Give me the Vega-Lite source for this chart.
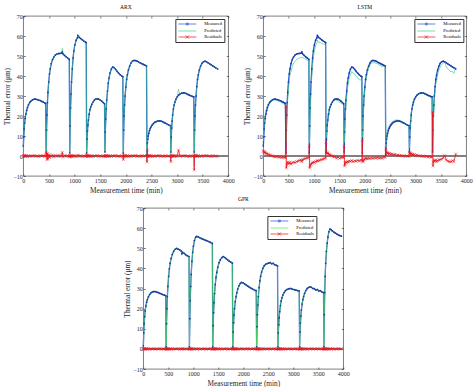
{
  "$schema": "https://vega.github.io/schema/vega-lite/v6.json",
  "padding": {"left": 3, "top": 4, "right": 3, "bottom": 0},
  "background": "#ffffff",
  "datasets": {
    "top": [
      {"t":0,"m":5.0,"pa":5.3,"ra":0.3,"pl":7.5,"rl":2.5},
      {"t":8,"m":9.5,"pa":9.1,"ra":-0.4,"pl":11.7,"rl":2.2},
      {"t":16,"m":13.5,"pa":13.7,"ra":0.2,"pl":15.5,"rl":2.0},
      {"t":25,"m":16.5,"pa":16.3,"ra":-0.2,"pl":18.3,"rl":1.8},
      {"t":35,"m":18.8,"pa":19.1,"ra":0.3,"pl":20.4,"rl":1.6},
      {"t":50,"m":21.0,"pa":20.9,"ra":-0.1,"pl":22.4,"rl":1.4},
      {"t":65,"m":22.8,"pa":23.0,"ra":0.2,"pl":24.0,"rl":1.2},
      {"t":80,"m":24.2,"pa":23.9,"ra":-0.3,"pl":25.2,"rl":1.0},
      {"t":100,"m":25.6,"pa":25.7,"ra":0.1,"pl":26.4,"rl":0.8},
      {"t":125,"m":26.8,"pa":26.6,"ra":-0.2,"pl":27.3,"rl":0.5},
      {"t":150,"m":27.5,"pa":27.7,"ra":0.2,"pl":27.8,"rl":0.3},
      {"t":180,"m":28.1,"pa":28.0,"ra":-0.1,"pl":28.1,"rl":0.0},
      {"t":210,"m":28.4,"pa":28.7,"ra":0.3,"pl":28.1,"rl":-0.3},
      {"t":240,"m":28.4,"pa":28.2,"ra":-0.2,"pl":27.9,"rl":-0.5},
      {"t":270,"m":28.2,"pa":28.3,"ra":0.1,"pl":27.9,"rl":-0.3},
      {"t":300,"m":28.0,"pa":27.7,"ra":-0.3,"pl":27.4,"rl":-0.6},
      {"t":330,"m":27.7,"pa":27.9,"ra":0.2,"pl":27.3,"rl":-0.4},
      {"t":360,"m":27.3,"pa":27.2,"ra":-0.1,"pl":26.5,"rl":-0.8},
      {"t":390,"m":26.9,"pa":27.1,"ra":0.2,"pl":26.4,"rl":-0.5},
      {"t":420,"m":26.5,"pa":26.3,"ra":-0.2,"pl":25.8,"rl":-0.7},
      {"t":434,"m":26.2,"pa":26.3,"ra":0.1,"pl":25.2,"rl":-1.0},
      {"t":445,"m":1.5,"pa":2.0,"ra":0.5,"pl":26.5,"rl":25.0},
      {"t":453,"m":13.0,"pa":15.0,"ra":2.0,"pl":7.0,"rl":-6.0},
      {"t":461,"m":20.5,"pa":18.7,"ra":-1.8,"pl":16.0,"rl":-4.5},
      {"t":470,"m":26.7,"pa":27.9,"ra":1.2,"pl":23.2,"rl":-3.5},
      {"t":480,"m":31.8,"pa":30.3,"ra":-1.5,"pl":28.8,"rl":-3.0},
      {"t":495,"m":37.0,"pa":37.6,"ra":0.6,"pl":33.0,"rl":-4.0},
      {"t":510,"m":41.0,"pa":40.2,"ra":-0.8,"pl":37.5,"rl":-3.5},
      {"t":525,"m":43.6,"pa":44.0,"ra":0.4,"pl":40.4,"rl":-3.2},
      {"t":545,"m":46.2,"pa":45.9,"ra":-0.3,"pl":42.2,"rl":-4.0},
      {"t":570,"m":48.2,"pa":48.7,"ra":0.5,"pl":44.7,"rl":-3.5},
      {"t":595,"m":49.5,"pa":49.1,"ra":-0.4,"pl":46.5,"rl":-3.0},
      {"t":625,"m":50.5,"pa":50.8,"ra":0.3,"pl":47.2,"rl":-3.3},
      {"t":655,"m":51.0,"pa":50.8,"ra":-0.2,"pl":48.2,"rl":-2.8},
      {"t":685,"m":51.2,"pa":51.6,"ra":0.4,"pl":48.7,"rl":-2.5},
      {"t":715,"m":51.3,"pa":51.0,"ra":-0.3,"pl":49.1,"rl":-2.2},
      {"t":745,"m":51.4,"pa":51.6,"ra":0.2,"pl":49.4,"rl":-2.0},
      {"t":760,"m":52.0,"pa":53.8,"ra":1.8,"pl":49.2,"rl":-2.8},
      {"t":775,"m":51.0,"pa":50.5,"ra":-0.5,"pl":49.2,"rl":-1.8},
      {"t":805,"m":50.3,"pa":50.6,"ra":0.3,"pl":48.8,"rl":-1.5},
      {"t":835,"m":49.6,"pa":49.4,"ra":-0.2,"pl":48.4,"rl":-1.2},
      {"t":865,"m":49.0,"pa":49.2,"ra":0.2,"pl":48.0,"rl":-1.0},
      {"t":897,"m":48.3,"pa":48.0,"ra":-0.3,"pl":47.5,"rl":-0.8},
      {"t":905,"m":1.5,"pa":1.8,"ra":0.3,"pl":6.5,"rl":5.0},
      {"t":913,"m":15.0,"pa":14.5,"ra":-0.5,"pl":9.0,"rl":-6.0},
      {"t":921,"m":24.0,"pa":24.4,"ra":0.4,"pl":19.0,"rl":-5.0},
      {"t":930,"m":31.0,"pa":30.7,"ra":-0.3,"pl":26.5,"rl":-4.5},
      {"t":940,"m":37.0,"pa":37.2,"ra":0.2,"pl":33.0,"rl":-4.0},
      {"t":955,"m":43.6,"pa":43.2,"ra":-0.4,"pl":40.1,"rl":-3.5},
      {"t":970,"m":49.0,"pa":49.3,"ra":0.3,"pl":45.5,"rl":-3.5},
      {"t":985,"m":52.5,"pa":52.3,"ra":-0.2,"pl":49.5,"rl":-3.0},
      {"t":1005,"m":55.5,"pa":55.7,"ra":0.2,"pl":52.3,"rl":-3.2},
      {"t":1030,"m":57.9,"pa":57.6,"ra":-0.3,"pl":55.1,"rl":-2.8},
      {"t":1055,"m":59.1,"pa":59.2,"ra":0.1,"pl":56.6,"rl":-2.5},
      {"t":1065,"m":60.2,"pa":60.6,"ra":0.4,"pl":57.9,"rl":-2.3},
      {"t":1090,"m":59.3,"pa":59.1,"ra":-0.2,"pl":56.8,"rl":-2.5},
      {"t":1120,"m":58.7,"pa":58.9,"ra":0.2,"pl":56.7,"rl":-2.0},
      {"t":1150,"m":58.1,"pa":57.8,"ra":-0.3,"pl":56.3,"rl":-1.8},
      {"t":1180,"m":57.5,"pa":57.6,"ra":0.1,"pl":56.0,"rl":-1.5},
      {"t":1210,"m":57.0,"pa":56.8,"ra":-0.2,"pl":55.8,"rl":-1.2},
      {"t":1227,"m":56.7,"pa":56.9,"ra":0.2,"pl":55.7,"rl":-1.0},
      {"t":1235,"m":1.5,"pa":2.1,"ra":0.6,"pl":8.5,"rl":7.0},
      {"t":1243,"m":8.5,"pa":8.1,"ra":-0.4,"pl":10.5,"rl":2.0},
      {"t":1251,"m":12.5,"pa":12.7,"ra":0.2,"pl":14.0,"rl":1.5},
      {"t":1260,"m":15.5,"pa":15.3,"ra":-0.2,"pl":16.7,"rl":1.2},
      {"t":1270,"m":18.0,"pa":18.3,"ra":0.3,"pl":19.5,"rl":1.5},
      {"t":1285,"m":20.9,"pa":20.8,"ra":-0.1,"pl":21.9,"rl":1.0},
      {"t":1300,"m":23.2,"pa":23.4,"ra":0.2,"pl":24.0,"rl":0.8},
      {"t":1315,"m":24.5,"pa":24.2,"ra":-0.3,"pl":25.0,"rl":0.5},
      {"t":1335,"m":25.8,"pa":25.9,"ra":0.1,"pl":26.1,"rl":0.3},
      {"t":1360,"m":27.0,"pa":26.8,"ra":-0.2,"pl":27.0,"rl":0.0},
      {"t":1385,"m":27.9,"pa":28.1,"ra":0.2,"pl":27.4,"rl":-0.5},
      {"t":1410,"m":28.5,"pa":28.4,"ra":-0.1,"pl":28.2,"rl":-0.3},
      {"t":1440,"m":28.6,"pa":28.9,"ra":0.3,"pl":27.6,"rl":-1.0},
      {"t":1470,"m":28.4,"pa":28.2,"ra":-0.2,"pl":27.9,"rl":-0.5},
      {"t":1500,"m":28.0,"pa":28.1,"ra":0.1,"pl":26.8,"rl":-1.2},
      {"t":1530,"m":27.4,"pa":27.1,"ra":-0.3,"pl":26.6,"rl":-0.8},
      {"t":1560,"m":26.7,"pa":26.9,"ra":0.2,"pl":26.1,"rl":-0.6},
      {"t":1584,"m":26.1,"pa":25.9,"ra":-0.2,"pl":25.3,"rl":-0.8},
      {"t":1592,"m":2.0,"pa":2.4,"ra":0.4,"pl":7.0,"rl":5.0},
      {"t":1600,"m":12.0,"pa":11.7,"ra":-0.3,"pl":7.0,"rl":-5.0},
      {"t":1608,"m":18.5,"pa":18.7,"ra":0.2,"pl":14.5,"rl":-4.0},
      {"t":1617,"m":23.5,"pa":23.3,"ra":-0.2,"pl":20.0,"rl":-3.5},
      {"t":1627,"m":28.0,"pa":28.3,"ra":0.3,"pl":25.0,"rl":-3.0},
      {"t":1642,"m":32.5,"pa":32.4,"ra":-0.1,"pl":29.3,"rl":-3.2},
      {"t":1657,"m":36.5,"pa":36.7,"ra":0.2,"pl":33.7,"rl":-2.8},
      {"t":1672,"m":39.0,"pa":38.7,"ra":-0.3,"pl":36.0,"rl":-3.0},
      {"t":1692,"m":41.5,"pa":41.6,"ra":0.1,"pl":39.0,"rl":-2.5},
      {"t":1717,"m":43.5,"pa":43.3,"ra":-0.2,"pl":40.8,"rl":-2.7},
      {"t":1742,"m":44.5,"pa":44.7,"ra":0.2,"pl":42.2,"rl":-2.3},
      {"t":1770,"m":44.2,"pa":44.1,"ra":-0.1,"pl":41.4,"rl":-2.8},
      {"t":1800,"m":43.3,"pa":43.6,"ra":0.3,"pl":40.9,"rl":-2.4},
      {"t":1830,"m":42.3,"pa":42.1,"ra":-0.2,"pl":39.7,"rl":-2.6},
      {"t":1860,"m":41.4,"pa":41.5,"ra":0.1,"pl":39.2,"rl":-2.2},
      {"t":1890,"m":40.6,"pa":40.3,"ra":-0.3,"pl":38.1,"rl":-2.5},
      {"t":1920,"m":40.0,"pa":40.2,"ra":0.2,"pl":38.0,"rl":-2.0},
      {"t":1941,"m":39.7,"pa":39.5,"ra":-0.2,"pl":37.5,"rl":-2.2},
      {"t":1950,"m":1.5,"pa":-0.3,"ra":-1.8,"pl":9.5,"rl":8.0},
      {"t":1958,"m":13.0,"pa":13.5,"ra":0.5,"pl":10.0,"rl":-3.0},
      {"t":1966,"m":20.0,"pa":19.7,"ra":-0.3,"pl":17.5,"rl":-2.5},
      {"t":1975,"m":25.5,"pa":25.7,"ra":0.2,"pl":23.5,"rl":-2.0},
      {"t":1985,"m":30.0,"pa":29.8,"ra":-0.2,"pl":28.2,"rl":-1.8},
      {"t":2000,"m":34.5,"pa":34.8,"ra":0.3,"pl":33.2,"rl":-1.3},
      {"t":2015,"m":38.3,"pa":38.2,"ra":-0.1,"pl":37.1,"rl":-1.2},
      {"t":2030,"m":40.6,"pa":40.8,"ra":0.2,"pl":39.5,"rl":-1.1},
      {"t":2050,"m":43.0,"pa":42.7,"ra":-0.3,"pl":41.6,"rl":-1.4},
      {"t":2075,"m":45.0,"pa":45.1,"ra":0.1,"pl":44.0,"rl":-1.0},
      {"t":2100,"m":46.5,"pa":46.3,"ra":-0.2,"pl":45.2,"rl":-1.3},
      {"t":2130,"m":47.5,"pa":47.7,"ra":0.2,"pl":46.6,"rl":-0.9},
      {"t":2160,"m":47.8,"pa":47.7,"ra":-0.1,"pl":46.6,"rl":-1.2},
      {"t":2190,"m":47.7,"pa":48.0,"ra":0.3,"pl":46.8,"rl":-0.9},
      {"t":2220,"m":47.4,"pa":47.2,"ra":-0.2,"pl":46.3,"rl":-1.1},
      {"t":2250,"m":47.0,"pa":47.1,"ra":0.1,"pl":46.2,"rl":-0.8},
      {"t":2280,"m":46.6,"pa":46.3,"ra":-0.3,"pl":45.5,"rl":-1.1},
      {"t":2310,"m":46.2,"pa":46.4,"ra":0.2,"pl":45.3,"rl":-0.9},
      {"t":2340,"m":45.8,"pa":45.6,"ra":-0.2,"pl":44.7,"rl":-1.1},
      {"t":2370,"m":45.4,"pa":45.5,"ra":0.1,"pl":44.8,"rl":-0.6},
      {"t":2403,"m":45.0,"pa":45.3,"ra":0.3,"pl":44.4,"rl":-0.6},
      {"t":2412,"m":0.5,"pa":-2.5,"ra":-3.0,"pl":4.5,"rl":4.0},
      {"t":2420,"m":6.5,"pa":9.5,"ra":3.0,"pl":8.5,"rl":2.0},
      {"t":2428,"m":8.5,"pa":8.1,"ra":-0.4,"pl":10.0,"rl":1.5},
      {"t":2437,"m":10.0,"pa":10.2,"ra":0.2,"pl":11.8,"rl":1.8},
      {"t":2447,"m":11.3,"pa":11.1,"ra":-0.2,"pl":12.5,"rl":1.2},
      {"t":2462,"m":12.7,"pa":13.0,"ra":0.3,"pl":14.2,"rl":1.5},
      {"t":2477,"m":13.8,"pa":13.7,"ra":-0.1,"pl":14.8,"rl":1.0},
      {"t":2492,"m":14.6,"pa":14.8,"ra":0.2,"pl":15.9,"rl":1.3},
      {"t":2512,"m":15.4,"pa":15.1,"ra":-0.3,"pl":16.2,"rl":0.8},
      {"t":2537,"m":16.2,"pa":16.3,"ra":0.1,"pl":17.2,"rl":1.0},
      {"t":2562,"m":16.8,"pa":16.6,"ra":-0.2,"pl":17.4,"rl":0.6},
      {"t":2592,"m":17.2,"pa":17.4,"ra":0.2,"pl":18.0,"rl":0.8},
      {"t":2622,"m":17.5,"pa":17.4,"ra":-0.1,"pl":17.9,"rl":0.4},
      {"t":2652,"m":17.6,"pa":17.9,"ra":0.3,"pl":18.1,"rl":0.5},
      {"t":2682,"m":17.5,"pa":17.3,"ra":-0.2,"pl":17.7,"rl":0.2},
      {"t":2712,"m":17.2,"pa":17.3,"ra":0.1,"pl":17.5,"rl":0.3},
      {"t":2742,"m":16.8,"pa":16.5,"ra":-0.3,"pl":16.8,"rl":0.0},
      {"t":2772,"m":16.4,"pa":16.6,"ra":0.2,"pl":16.6,"rl":0.2},
      {"t":2802,"m":16.0,"pa":15.8,"ra":-0.2,"pl":15.8,"rl":-0.2},
      {"t":2832,"m":15.6,"pa":15.7,"ra":0.1,"pl":15.7,"rl":0.1},
      {"t":2870,"m":15.2,"pa":15.0,"ra":-0.2,"pl":14.9,"rl":-0.3},
      {"t":2878,"m":2.0,"pa":-0.8,"ra":-2.8,"pl":4.0,"rl":2.0},
      {"t":2886,"m":9.5,"pa":10.0,"ra":0.5,"pl":10.5,"rl":1.0},
      {"t":2894,"m":14.0,"pa":13.7,"ra":-0.3,"pl":15.5,"rl":1.5},
      {"t":2903,"m":17.5,"pa":17.7,"ra":0.2,"pl":18.3,"rl":0.8},
      {"t":2913,"m":20.5,"pa":20.3,"ra":-0.2,"pl":21.7,"rl":1.2},
      {"t":2928,"m":23.5,"pa":23.8,"ra":0.3,"pl":24.1,"rl":0.6},
      {"t":2943,"m":25.5,"pa":25.4,"ra":-0.1,"pl":26.5,"rl":1.0},
      {"t":2958,"m":27.0,"pa":27.2,"ra":0.2,"pl":27.5,"rl":0.5},
      {"t":2978,"m":28.4,"pa":28.1,"ra":-0.3,"pl":29.1,"rl":0.7},
      {"t":3003,"m":29.6,"pa":29.7,"ra":0.1,"pl":29.9,"rl":0.3},
      {"t":3028,"m":30.4,"pa":33.4,"ra":3.0,"pl":30.9,"rl":0.5},
      {"t":3058,"m":31.0,"pa":30.8,"ra":-0.2,"pl":31.0,"rl":0.0},
      {"t":3090,"m":31.4,"pa":31.6,"ra":0.2,"pl":31.6,"rl":0.2},
      {"t":3120,"m":31.6,"pa":31.5,"ra":-0.1,"pl":31.4,"rl":-0.2},
      {"t":3150,"m":31.5,"pa":31.8,"ra":0.3,"pl":31.5,"rl":0.0},
      {"t":3180,"m":31.2,"pa":31.0,"ra":-0.2,"pl":30.9,"rl":-0.3},
      {"t":3210,"m":30.8,"pa":30.9,"ra":0.1,"pl":30.7,"rl":-0.1},
      {"t":3240,"m":30.4,"pa":30.1,"ra":-0.3,"pl":29.9,"rl":-0.5},
      {"t":3270,"m":30.1,"pa":30.3,"ra":0.2,"pl":29.8,"rl":-0.3},
      {"t":3300,"m":29.8,"pa":29.6,"ra":-0.2,"pl":29.2,"rl":-0.6},
      {"t":3325,"m":29.6,"pa":29.7,"ra":0.1,"pl":29.1,"rl":-0.5},
      {"t":3334,"m":2.0,"pa":-5.0,"ra":-7.0,"pl":24.0,"rl":22.0},
      {"t":3342,"m":13.0,"pa":13.6,"ra":0.6,"pl":8.0,"rl":-5.0},
      {"t":3350,"m":20.0,"pa":19.7,"ra":-0.3,"pl":17.0,"rl":-3.0},
      {"t":3359,"m":25.5,"pa":25.7,"ra":0.2,"pl":23.0,"rl":-2.5},
      {"t":3369,"m":30.0,"pa":29.8,"ra":-0.2,"pl":28.0,"rl":-2.0},
      {"t":3384,"m":34.7,"pa":35.0,"ra":0.3,"pl":32.2,"rl":-2.5},
      {"t":3399,"m":38.3,"pa":38.2,"ra":-0.1,"pl":36.3,"rl":-2.0},
      {"t":3414,"m":40.6,"pa":40.8,"ra":0.2,"pl":37.8,"rl":-2.8},
      {"t":3434,"m":43.0,"pa":42.7,"ra":-0.3,"pl":40.7,"rl":-2.3},
      {"t":3459,"m":45.0,"pa":45.1,"ra":0.1,"pl":43.0,"rl":-2.0},
      {"t":3484,"m":46.3,"pa":46.1,"ra":-0.2,"pl":44.5,"rl":-1.8},
      {"t":3514,"m":47.1,"pa":47.3,"ra":0.2,"pl":45.6,"rl":-1.5},
      {"t":3544,"m":47.4,"pa":47.3,"ra":-0.1,"pl":46.4,"rl":-1.0},
      {"t":3574,"m":47.1,"pa":47.4,"ra":0.3,"pl":47.3,"rl":0.2},
      {"t":3604,"m":46.6,"pa":46.4,"ra":-0.2,"pl":44.6,"rl":-2.0},
      {"t":3634,"m":46.1,"pa":46.2,"ra":0.1,"pl":43.6,"rl":-2.5},
      {"t":3664,"m":45.6,"pa":45.3,"ra":-0.3,"pl":42.8,"rl":-2.8},
      {"t":3694,"m":45.1,"pa":45.3,"ra":0.2,"pl":42.1,"rl":-3.0},
      {"t":3724,"m":44.6,"pa":44.4,"ra":-0.2,"pl":42.3,"rl":-2.3},
      {"t":3754,"m":44.1,"pa":44.2,"ra":0.1,"pl":41.3,"rl":-2.8},
      {"t":3792,"m":43.5,"pa":43.3,"ra":-0.2,"pl":44.5,"rl":1.0}
    ],
    "gpr": [
      {"t":0,"m":1.5,"p":1.7,"r":0.2},
      {"t":8,"m":8.0,"p":7.8,"r":-0.2},
      {"t":16,"m":12.5,"p":12.6,"r":0.1},
      {"t":25,"m":16.0,"p":15.9,"r":-0.1},
      {"t":35,"m":18.8,"p":19.0,"r":0.2},
      {"t":50,"m":21.3,"p":21.1,"r":-0.2},
      {"t":65,"m":23.2,"p":23.3,"r":0.1},
      {"t":80,"m":24.5,"p":24.4,"r":-0.1},
      {"t":100,"m":25.8,"p":26.0,"r":0.2},
      {"t":125,"m":27.0,"p":26.8,"r":-0.2},
      {"t":150,"m":27.8,"p":27.9,"r":0.1},
      {"t":180,"m":28.3,"p":28.2,"r":-0.1},
      {"t":210,"m":28.5,"p":28.7,"r":0.2},
      {"t":240,"m":28.4,"p":28.2,"r":-0.2},
      {"t":270,"m":28.2,"p":28.3,"r":0.1},
      {"t":300,"m":27.9,"p":27.8,"r":-0.1},
      {"t":330,"m":27.6,"p":27.8,"r":0.2},
      {"t":360,"m":27.3,"p":27.1,"r":-0.2},
      {"t":390,"m":27.0,"p":27.1,"r":0.1},
      {"t":420,"m":26.7,"p":26.6,"r":-0.1},
      {"t":447,"m":26.4,"p":26.7,"r":0.3},
      {"t":455,"m":1.0,"p":0.7,"r":-0.3},
      {"t":463,"m":12.5,"p":12.7,"r":0.2},
      {"t":471,"m":20.0,"p":19.8,"r":-0.2},
      {"t":480,"m":26.0,"p":26.1,"r":0.1},
      {"t":490,"m":31.0,"p":30.9,"r":-0.1},
      {"t":505,"m":36.0,"p":36.2,"r":0.2},
      {"t":520,"m":39.8,"p":39.6,"r":-0.2},
      {"t":535,"m":42.5,"p":42.6,"r":0.1},
      {"t":555,"m":45.0,"p":44.9,"r":-0.1},
      {"t":580,"m":47.0,"p":47.2,"r":0.2},
      {"t":605,"m":48.5,"p":48.3,"r":-0.2},
      {"t":635,"m":49.5,"p":49.6,"r":0.1},
      {"t":665,"m":49.9,"p":49.8,"r":-0.1},
      {"t":695,"m":49.6,"p":49.8,"r":0.2},
      {"t":725,"m":49.2,"p":49.0,"r":-0.2},
      {"t":755,"m":48.7,"p":48.8,"r":0.1},
      {"t":770,"m":47.3,"p":47.2,"r":-0.1},
      {"t":785,"m":48.0,"p":48.2,"r":0.2},
      {"t":815,"m":47.5,"p":47.3,"r":-0.2},
      {"t":845,"m":46.8,"p":46.9,"r":0.1},
      {"t":875,"m":46.3,"p":46.2,"r":-0.1},
      {"t":913,"m":45.9,"p":46.1,"r":0.2},
      {"t":921,"m":1.0,"p":0.8,"r":-0.2},
      {"t":929,"m":15.0,"p":15.1,"r":0.1},
      {"t":937,"m":24.0,"p":23.9,"r":-0.1},
      {"t":946,"m":31.0,"p":31.2,"r":0.2},
      {"t":956,"m":37.0,"p":36.8,"r":-0.2},
      {"t":971,"m":43.5,"p":43.6,"r":0.1},
      {"t":986,"m":48.0,"p":47.9,"r":-0.1},
      {"t":1001,"m":51.0,"p":51.2,"r":0.2},
      {"t":1021,"m":53.8,"p":53.6,"r":-0.2},
      {"t":1046,"m":55.5,"p":55.6,"r":0.1},
      {"t":1071,"m":55.9,"p":55.8,"r":-0.1},
      {"t":1101,"m":55.6,"p":55.8,"r":0.2},
      {"t":1131,"m":55.2,"p":55.0,"r":-0.2},
      {"t":1161,"m":54.8,"p":54.9,"r":0.1},
      {"t":1191,"m":54.5,"p":54.4,"r":-0.1},
      {"t":1221,"m":54.2,"p":54.4,"r":0.2},
      {"t":1251,"m":53.9,"p":53.7,"r":-0.2},
      {"t":1281,"m":53.6,"p":53.7,"r":0.1},
      {"t":1311,"m":53.3,"p":53.2,"r":-0.1},
      {"t":1341,"m":52.9,"p":53.1,"r":0.2},
      {"t":1380,"m":52.4,"p":52.2,"r":-0.2},
      {"t":1388,"m":1.0,"p":1.1,"r":0.1},
      {"t":1396,"m":11.5,"p":11.4,"r":-0.1},
      {"t":1404,"m":18.0,"p":18.2,"r":0.2},
      {"t":1413,"m":23.0,"p":22.8,"r":-0.2},
      {"t":1423,"m":27.5,"p":27.6,"r":0.1},
      {"t":1438,"m":32.0,"p":31.9,"r":-0.1},
      {"t":1453,"m":35.5,"p":35.7,"r":0.2},
      {"t":1468,"m":38.0,"p":37.8,"r":-0.2},
      {"t":1488,"m":40.5,"p":40.6,"r":0.1},
      {"t":1513,"m":42.8,"p":42.7,"r":-0.1},
      {"t":1538,"m":44.2,"p":44.4,"r":0.2},
      {"t":1568,"m":45.3,"p":45.1,"r":-0.2},
      {"t":1598,"m":45.9,"p":46.0,"r":0.1},
      {"t":1628,"m":45.4,"p":45.3,"r":-0.1},
      {"t":1658,"m":44.8,"p":45.0,"r":0.2},
      {"t":1688,"m":44.2,"p":44.0,"r":-0.2},
      {"t":1718,"m":43.6,"p":43.7,"r":0.1},
      {"t":1748,"m":43.1,"p":43.0,"r":-0.1},
      {"t":1780,"m":42.6,"p":42.8,"r":0.2},
      {"t":1788,"m":1.0,"p":0.8,"r":-0.2},
      {"t":1796,"m":8.5,"p":8.6,"r":0.1},
      {"t":1804,"m":13.0,"p":12.9,"r":-0.1},
      {"t":1813,"m":16.8,"p":17.0,"r":0.2},
      {"t":1823,"m":20.0,"p":19.8,"r":-0.2},
      {"t":1838,"m":23.5,"p":23.6,"r":0.1},
      {"t":1853,"m":26.0,"p":25.9,"r":-0.1},
      {"t":1868,"m":27.8,"p":28.0,"r":0.2},
      {"t":1888,"m":29.7,"p":29.5,"r":-0.2},
      {"t":1913,"m":31.4,"p":31.5,"r":0.1},
      {"t":1938,"m":32.5,"p":32.4,"r":-0.1},
      {"t":1963,"m":33.0,"p":33.2,"r":0.2},
      {"t":1993,"m":32.8,"p":32.6,"r":-0.2},
      {"t":2023,"m":32.3,"p":32.4,"r":0.1},
      {"t":2053,"m":31.8,"p":31.7,"r":-0.1},
      {"t":2083,"m":31.3,"p":31.5,"r":0.2},
      {"t":2113,"m":30.8,"p":30.6,"r":-0.2},
      {"t":2143,"m":30.3,"p":30.4,"r":0.1},
      {"t":2173,"m":29.9,"p":29.8,"r":-0.1},
      {"t":2203,"m":29.5,"p":29.7,"r":0.2},
      {"t":2233,"m":29.1,"p":28.9,"r":-0.2},
      {"t":2257,"m":28.9,"p":29.0,"r":0.1},
      {"t":2265,"m":1.0,"p":0.9,"r":-0.1},
      {"t":2273,"m":11.0,"p":11.2,"r":0.2},
      {"t":2281,"m":17.0,"p":16.8,"r":-0.2},
      {"t":2290,"m":21.8,"p":21.9,"r":0.1},
      {"t":2300,"m":26.0,"p":25.9,"r":-0.1},
      {"t":2315,"m":30.5,"p":30.7,"r":0.2},
      {"t":2330,"m":33.8,"p":33.6,"r":-0.2},
      {"t":2345,"m":36.0,"p":36.1,"r":0.1},
      {"t":2365,"m":38.2,"p":38.1,"r":-0.1},
      {"t":2390,"m":40.0,"p":40.2,"r":0.2},
      {"t":2415,"m":41.2,"p":41.0,"r":-0.2},
      {"t":2445,"m":42.0,"p":42.1,"r":0.1},
      {"t":2475,"m":42.4,"p":42.3,"r":-0.1},
      {"t":2505,"m":42.6,"p":42.8,"r":0.2},
      {"t":2535,"m":42.9,"p":42.7,"r":-0.2},
      {"t":2565,"m":42.3,"p":42.4,"r":0.1},
      {"t":2595,"m":42.5,"p":42.4,"r":-0.1},
      {"t":2625,"m":41.8,"p":42.0,"r":0.2},
      {"t":2655,"m":41.6,"p":41.4,"r":-0.2},
      {"t":2683,"m":41.2,"p":41.3,"r":0.1},
      {"t":2691,"m":1.0,"p":0.9,"r":-0.1},
      {"t":2699,"m":8.0,"p":8.2,"r":0.2},
      {"t":2707,"m":12.0,"p":11.8,"r":-0.2},
      {"t":2716,"m":15.5,"p":15.6,"r":0.1},
      {"t":2726,"m":18.5,"p":18.4,"r":-0.1},
      {"t":2741,"m":21.5,"p":21.7,"r":0.2},
      {"t":2756,"m":23.8,"p":23.6,"r":-0.2},
      {"t":2771,"m":25.3,"p":25.4,"r":0.1},
      {"t":2791,"m":26.8,"p":26.7,"r":-0.1},
      {"t":2816,"m":28.0,"p":28.2,"r":0.2},
      {"t":2841,"m":28.9,"p":28.7,"r":-0.2},
      {"t":2871,"m":29.5,"p":29.6,"r":0.1},
      {"t":2901,"m":29.8,"p":29.7,"r":-0.1},
      {"t":2931,"m":30.0,"p":30.2,"r":0.2},
      {"t":2961,"m":29.9,"p":29.7,"r":-0.2},
      {"t":2991,"m":29.6,"p":29.7,"r":0.1},
      {"t":3021,"m":29.4,"p":29.3,"r":-0.1},
      {"t":3051,"m":29.2,"p":29.4,"r":0.2},
      {"t":3081,"m":29.0,"p":28.8,"r":-0.2},
      {"t":3117,"m":28.8,"p":28.9,"r":0.1},
      {"t":3125,"m":1.0,"p":0.9,"r":-0.1},
      {"t":3133,"m":8.5,"p":8.7,"r":0.2},
      {"t":3141,"m":12.8,"p":12.6,"r":-0.2},
      {"t":3150,"m":16.3,"p":16.4,"r":0.1},
      {"t":3160,"m":19.3,"p":19.2,"r":-0.1},
      {"t":3175,"m":22.3,"p":22.5,"r":0.2},
      {"t":3190,"m":24.5,"p":24.3,"r":-0.2},
      {"t":3205,"m":26.0,"p":26.1,"r":0.1},
      {"t":3225,"m":27.6,"p":27.5,"r":-0.1},
      {"t":3250,"m":29.0,"p":29.2,"r":0.2},
      {"t":3275,"m":29.9,"p":29.7,"r":-0.2},
      {"t":3300,"m":30.5,"p":30.6,"r":0.1},
      {"t":3330,"m":30.8,"p":30.7,"r":-0.1},
      {"t":3360,"m":30.6,"p":30.8,"r":0.2},
      {"t":3390,"m":30.0,"p":29.8,"r":-0.2},
      {"t":3420,"m":29.9,"p":30.0,"r":0.1},
      {"t":3450,"m":29.3,"p":29.2,"r":-0.1},
      {"t":3480,"m":29.5,"p":29.7,"r":0.2},
      {"t":3510,"m":28.8,"p":28.6,"r":-0.2},
      {"t":3540,"m":28.9,"p":29.0,"r":0.1},
      {"t":3570,"m":28.3,"p":28.2,"r":-0.1},
      {"t":3603,"m":28.0,"p":28.2,"r":0.2},
      {"t":3611,"m":1.0,"p":0.8,"r":-0.2},
      {"t":3619,"m":17.0,"p":17.1,"r":0.1},
      {"t":3627,"m":28.0,"p":27.9,"r":-0.1},
      {"t":3636,"m":36.0,"p":36.2,"r":0.2},
      {"t":3646,"m":42.5,"p":42.3,"r":-0.2},
      {"t":3661,"m":48.5,"p":48.6,"r":0.1},
      {"t":3676,"m":52.5,"p":52.4,"r":-0.1},
      {"t":3691,"m":55.5,"p":55.7,"r":0.2},
      {"t":3711,"m":58.2,"p":58.0,"r":-0.2},
      {"t":3731,"m":59.5,"p":59.6,"r":0.1},
      {"t":3756,"m":59.2,"p":59.1,"r":-0.1},
      {"t":3781,"m":58.6,"p":58.8,"r":0.2},
      {"t":3811,"m":58.0,"p":57.8,"r":-0.2},
      {"t":3841,"m":57.5,"p":57.6,"r":0.1},
      {"t":3871,"m":57.0,"p":56.9,"r":-0.1},
      {"t":3901,"m":56.6,"p":56.8,"r":0.2},
      {"t":3930,"m":56.3,"p":56.1,"r":-0.2},
      {"t":3960,"m":56.0,"p":56.1,"r":0.1}
    ]
  },
  "vconcat": [
    {
      "hconcat": [
        {
          "title": "ARX",
          "width": 205,
          "height": 160,
          "data": {"name": "top"},
          "resolve": {"axis": {"x": "independent", "y": "independent"}},
          "layer": [
            {"mark": {"type": "rule", "color": "#808080", "strokeWidth": 0.6},
             "encoding": {"y": {"datum": 0, "type": "quantitative", "scale": {"domain": [-10, 70], "nice": false}, "axis": null}}},
            {"mark": {"type": "line", "color": "#2150d0", "strokeWidth": 1.3},
             "encoding": {
               "x": {"field": "t", "type": "quantitative", "scale": {"domain": [0, 4000], "nice": false}, "axis": {"title": "Measurement time (min)", "format": "d", "values": [0,500,1000,1500,2000,2500,3000,3500,4000], "titlePadding": 3}},
               "y": {"field": "m", "type": "quantitative", "scale": {"domain": [-10, 70], "nice": false}, "axis": {"title": "Thermal error (μm)", "values": [-10,0,10,20,30,40,50,60,70]}}}},
            {"mark": {"type": "line", "color": "#3fcf86", "strokeWidth": 0.6},
             "encoding": {"x": {"field": "t", "type": "quantitative", "axis": null}, "y": {"field": "pa", "type": "quantitative", "axis": null}}},
            {"mark": {"type": "circle", "color": "#1c3a9e", "size": 3, "opacity": 1},
             "encoding": {"x": {"field": "t", "type": "quantitative", "axis": null}, "y": {"field": "m", "type": "quantitative", "axis": null}}},
            {"mark": {"type": "line", "color": "#e8141e", "strokeWidth": 0.8},
             "encoding": {"x": {"field": "t", "type": "quantitative", "axis": null}, "y": {"field": "ra", "type": "quantitative", "axis": null}}},
            {"mark": {"type": "point", "color": "#e8141e", "shape": "M-1,-1L1,1M-1,1L1,-1", "size": 8, "filled": false, "strokeWidth": 0.5, "opacity": 1},
             "encoding": {"x": {"field": "t", "type": "quantitative", "axis": null}, "y": {"field": "ra", "type": "quantitative", "axis": null}}},
            {"transform": [{"fold": ["m", "pa", "ra"], "as": ["series", "value"]}],
             "mark": {"type": "point", "filled": false, "opacity": 0},
             "encoding": {
               "x": {"field": "t", "type": "quantitative", "axis": {"orient": "top", "labels": false, "title": null, "values": [0,500,1000,1500,2000,2500,3000,3500,4000]}},
               "y": {"field": "value", "type": "quantitative", "axis": {"orient": "right", "labels": false, "title": null, "values": [-10,0,10,20,30,40,50,60,70]}},
               "color": {"field": "series", "type": "nominal", "scale": {"domain": ["m", "pa", "ra"], "range": ["#2150d0", "#3fcf86", "#e8141e"]},
                 "legend": {"title": null, "orient": "none", "legendX": 152, "legendY": 3, "symbolOpacity": 1, "labelExpr": "datum.label == 'm' ? 'Measured' : datum.label == 'ra' ? 'Residuals' : 'Predicted'"}},
               "shape": {"field": "series", "type": "nominal", "scale": {"domain": ["m", "pa", "ra"], "range": ["M-4,0H4M-0.4,-0.4H0.4V0.4H-0.4Z", "M-4,0H4", "M-4,0H4M-0.7,-0.7L0.7,0.7M-0.7,0.7L0.7,-0.7"]},
                 "legend": {"title": null, "orient": "none", "legendX": 152, "legendY": 3, "symbolOpacity": 1, "labelExpr": "datum.label == 'm' ? 'Measured' : datum.label == 'ra' ? 'Residuals' : 'Predicted'"}}}}
          ]
        },
        {
          "title": "LSTM",
          "width": 203,
          "height": 160,
          "data": {"name": "top"},
          "resolve": {"axis": {"x": "independent", "y": "independent"}},
          "layer": [
            {"mark": {"type": "rule", "color": "#808080", "strokeWidth": 0.6},
             "encoding": {"y": {"datum": 0, "type": "quantitative", "scale": {"domain": [-10, 70], "nice": false}, "axis": null}}},
            {"mark": {"type": "line", "color": "#2150d0", "strokeWidth": 1.3},
             "encoding": {
               "x": {"field": "t", "type": "quantitative", "scale": {"domain": [0, 4000], "nice": false}, "axis": {"title": "Measurement time (min)", "format": "d", "values": [0,500,1000,1500,2000,2500,3000,3500,4000], "titlePadding": 3}},
               "y": {"field": "m", "type": "quantitative", "scale": {"domain": [-10, 70], "nice": false}, "axis": {"title": "Thermal error (μm)", "values": [-10,0,10,20,30,40,50,60,70]}}}},
            {"mark": {"type": "line", "color": "#3fcf86", "strokeWidth": 0.7},
             "encoding": {"x": {"field": "t", "type": "quantitative", "axis": null}, "y": {"field": "pl", "type": "quantitative", "axis": null}}},
            {"mark": {"type": "circle", "color": "#1c3a9e", "size": 3, "opacity": 1},
             "encoding": {"x": {"field": "t", "type": "quantitative", "axis": null}, "y": {"field": "m", "type": "quantitative", "axis": null}}},
            {"mark": {"type": "line", "color": "#e8141e", "strokeWidth": 0.8},
             "encoding": {"x": {"field": "t", "type": "quantitative", "axis": null}, "y": {"field": "rl", "type": "quantitative", "axis": null}}},
            {"mark": {"type": "point", "color": "#e8141e", "shape": "M-1,-1L1,1M-1,1L1,-1", "size": 8, "filled": false, "strokeWidth": 0.5, "opacity": 1},
             "encoding": {"x": {"field": "t", "type": "quantitative", "axis": null}, "y": {"field": "rl", "type": "quantitative", "axis": null}}},
            {"transform": [{"fold": ["m", "pl", "rl"], "as": ["series", "value"]}],
             "mark": {"type": "point", "filled": false, "opacity": 0},
             "encoding": {
               "x": {"field": "t", "type": "quantitative", "axis": {"orient": "top", "labels": false, "title": null, "values": [0,500,1000,1500,2000,2500,3000,3500,4000]}},
               "y": {"field": "value", "type": "quantitative", "axis": {"orient": "right", "labels": false, "title": null, "values": [-10,0,10,20,30,40,50,60,70]}},
               "color": {"field": "series", "type": "nominal", "scale": {"domain": ["m", "pl", "rl"], "range": ["#2150d0", "#3fcf86", "#e8141e"]},
                 "legend": {"title": null, "orient": "none", "legendX": 151, "legendY": 3, "symbolOpacity": 1, "labelExpr": "datum.label == 'm' ? 'Measured' : datum.label == 'rl' ? 'Residuals' : 'Predicted'"}},
               "shape": {"field": "series", "type": "nominal", "scale": {"domain": ["m", "pl", "rl"], "range": ["M-4,0H4M-0.4,-0.4H0.4V0.4H-0.4Z", "M-4,0H4", "M-4,0H4M-0.7,-0.7L0.7,0.7M-0.7,0.7L0.7,-0.7"]},
                 "legend": {"title": null, "orient": "none", "legendX": 151, "legendY": 3, "symbolOpacity": 1, "labelExpr": "datum.label == 'm' ? 'Measured' : datum.label == 'rl' ? 'Residuals' : 'Predicted'"}}}}
          ]
        }
      ],
      "spacing": 8,
      "resolve": {"scale": {"x": "independent", "y": "independent", "color": "independent", "shape": "independent"}}
    },
    {
      "title": "GPR",
      "width": 200,
      "height": 161,
      "data": {"name": "gpr"},
      "resolve": {"axis": {"x": "independent", "y": "independent"}},
      "layer": [
        {"mark": {"type": "rule", "color": "#808080", "strokeWidth": 0.6},
         "encoding": {"y": {"datum": 0, "type": "quantitative", "scale": {"domain": [-10, 70], "nice": false}, "axis": null}}},
        {"mark": {"type": "line", "color": "#2150d0", "strokeWidth": 1.3},
         "encoding": {
           "x": {"field": "t", "type": "quantitative", "scale": {"domain": [0, 4000], "nice": false}, "axis": {"title": "Measurement time (min)", "format": "d", "values": [0,500,1000,1500,2000,2500,3000,3500,4000], "titlePadding": 3}},
           "y": {"field": "m", "type": "quantitative", "scale": {"domain": [-10, 70], "nice": false}, "axis": {"title": "Thermal error (μm)", "values": [-10,0,10,20,30,40,50,60,70]}}}},
        {"mark": {"type": "line", "color": "#4ee64e", "strokeWidth": 0.9, "opacity": 0.75},
         "encoding": {"x": {"field": "t", "type": "quantitative", "axis": null}, "y": {"field": "p", "type": "quantitative", "axis": null}}},
        {"mark": {"type": "circle", "color": "#1c3a9e", "size": 3, "opacity": 1},
         "encoding": {"x": {"field": "t", "type": "quantitative", "axis": null}, "y": {"field": "m", "type": "quantitative", "axis": null}}},
        {"mark": {"type": "line", "color": "#e8141e", "strokeWidth": 0.8},
         "encoding": {"x": {"field": "t", "type": "quantitative", "axis": null}, "y": {"field": "r", "type": "quantitative", "axis": null}}},
        {"mark": {"type": "point", "color": "#e8141e", "shape": "M-1,-1L1,1M-1,1L1,-1", "size": 8, "filled": false, "strokeWidth": 0.5, "opacity": 1},
         "encoding": {"x": {"field": "t", "type": "quantitative", "axis": null}, "y": {"field": "r", "type": "quantitative", "axis": null}}},
        {"transform": [{"fold": ["m", "p", "r"], "as": ["series", "value"]}],
         "mark": {"type": "point", "filled": false, "opacity": 0},
         "encoding": {
           "x": {"field": "t", "type": "quantitative", "axis": {"orient": "top", "labels": false, "title": null, "values": [0,500,1000,1500,2000,2500,3000,3500,4000]}},
           "y": {"field": "value", "type": "quantitative", "axis": {"orient": "right", "labels": false, "title": null, "values": [-10,0,10,20,30,40,50,60,70]}},
           "color": {"field": "series", "type": "nominal", "scale": {"domain": ["m", "p", "r"], "range": ["#2150d0", "#4ee64e", "#e8141e"]},
             "legend": {"title": null, "orient": "none", "legendX": 124, "legendY": 8, "symbolOpacity": 1, "labelExpr": "datum.label == 'm' ? 'Measured' : datum.label == 'r' ? 'Residuals' : 'Predicted'"}},
           "shape": {"field": "series", "type": "nominal", "scale": {"domain": ["m", "p", "r"], "range": ["M-4,0H4M-0.4,-0.4H0.4V0.4H-0.4Z", "M-4,0H4", "M-4,0H4M-0.7,-0.7L0.7,0.7M-0.7,0.7L0.7,-0.7"]},
             "legend": {"title": null, "orient": "none", "legendX": 124, "legendY": 8, "symbolOpacity": 1, "labelExpr": "datum.label == 'm' ? 'Measured' : datum.label == 'r' ? 'Residuals' : 'Predicted'"}}}}
      ]
    }
  ],
  "spacing": 2,
  "center": true,
  "resolve": {"scale": {"x": "independent", "y": "independent", "color": "independent", "shape": "independent"}},
  "config": {
    "font": "Liberation Serif",
    "view": {"stroke": "#262626", "strokeWidth": 0.6},
    "axis": {"domain": false, "grid": false, "ticks": true, "tickSize": -2, "tickWidth": 0.6, "tickColor": "#262626", "labelFont": "Liberation Serif", "labelFontSize": 6, "labelColor": "#262626", "labelFlush": false, "labelOverlap": false, "labelPadding": 3, "titleFont": "Liberation Serif", "titleFontSize": 7.3, "titleFontWeight": "normal", "titleColor": "#262626", "titlePadding": 1},
    "title": {"font": "Liberation Serif", "fontSize": 5.5, "fontWeight": "normal", "color": "#000000", "offset": 3},
    "legend": {"labelFont": "Liberation Serif", "labelFontSize": 4.5, "labelColor": "#000000", "strokeColor": "#333333", "fillColor": "#ffffff", "padding": 2, "rowPadding": 1, "symbolStrokeWidth": 0.7, "symbolSize": 20, "symbolOffset": 7, "labelOffset": 14}
  }
}
